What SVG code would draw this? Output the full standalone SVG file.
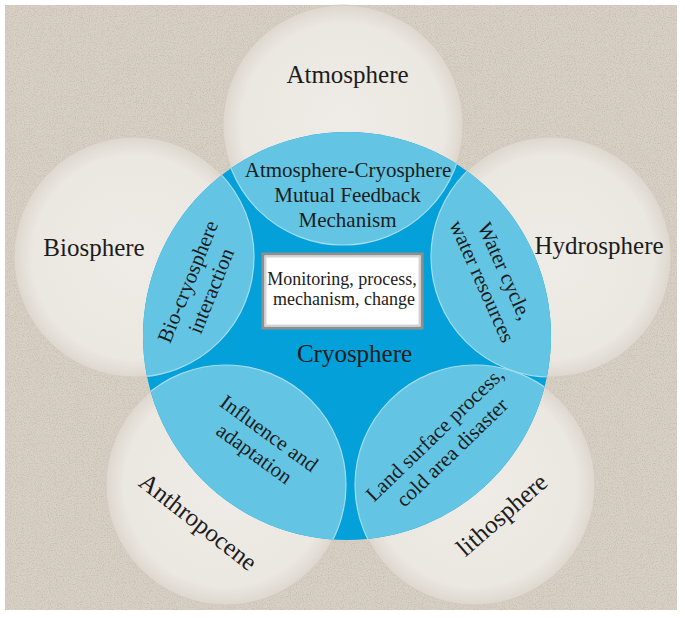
<svg xmlns="http://www.w3.org/2000/svg" xmlns:xlink="http://www.w3.org/1999/xlink" width="685" height="618" viewBox="0 0 685 618">
<style>
text{font-family:"Liberation Serif","Times New Roman",serif;fill:#1c1c1c;text-anchor:middle}
.outer{font-size:25px}
.inner{font-size:21px}
.box{font-size:18px}
.petal{fill:url(#petalGrad);stroke:#d2ccc2;stroke-width:1}
.lens{fill:#63c5e3;stroke:#a3ddef;stroke-width:1.2}
</style>
<defs>
<radialGradient id="petalGrad" cx="0.5" cy="0.5" r="0.5">
<stop offset="0" stop-color="#efece7"/>
<stop offset="0.85" stop-color="#ebe7e1"/>
<stop offset="1" stop-color="#ddd7ce"/>
</radialGradient>
<filter id="grain" x="0" y="0" width="100%" height="100%">
<feTurbulence type="fractalNoise" baseFrequency="0.85" numOctaves="2" seed="3" result="n"/>
<feColorMatrix in="n" type="matrix" values="0 0 0 0 0.45  0 0 0 0 0.42  0 0 0 0 0.38  0 0 0 -2.2 1.25"/>
<feComposite in2="SourceGraphic" operator="in"/>
</filter>
<clipPath id="blueClip"><circle cx="347" cy="336" r="204"/></clipPath>
<circle id="cAtm" cx="343" cy="125" r="120"/>
<circle id="cHyd" cx="551" cy="257" r="120"/>
<circle id="cBio" cx="134" cy="257" r="120"/>
<circle id="cAnt" cx="226" cy="485" r="120"/>
<circle id="cLit" cx="475" cy="485" r="120"/>
</defs>
<rect x="0" y="0" width="685" height="618" fill="#ffffff"/>
<rect x="5" y="5" width="672" height="605" fill="#d8d0c4"/>
<rect x="5" y="5" width="672" height="605" fill="#d8d0c4" filter="url(#grain)" opacity="0.6"/>

<g id="atmosphere">
<use xlink:href="#cAtm" class="petal"/>
<text class="outer" x="347.5" y="83">Atmosphere</text>
</g>
<g id="hydrosphere">
<use xlink:href="#cHyd" class="petal"/>
<text class="outer" x="599" y="254">Hydrosphere</text>
</g>
<g id="biosphere">
<use xlink:href="#cBio" class="petal"/>
<text class="outer" x="94" y="256">Biosphere</text>
</g>
<g id="anthropocene">
<use xlink:href="#cAnt" class="petal"/>
<text class="outer" transform="translate(198,522) rotate(38)" x="0" y="8">Anthropocene</text>
</g>
<g id="lithosphere">
<use xlink:href="#cLit" class="petal"/>
<text class="outer" transform="translate(502,515) rotate(-41)" x="0" y="8">lithosphere</text>
</g>

<g id="cryosphere">
<circle cx="347" cy="336" r="204" fill="#04a0d9"/>
<g clip-path="url(#blueClip)">
<use xlink:href="#cAtm" class="lens"/>
<use xlink:href="#cHyd" class="lens"/>
<use xlink:href="#cBio" class="lens"/>
<use xlink:href="#cAnt" class="lens"/>
<use xlink:href="#cLit" class="lens"/>
</g>
<text class="outer" x="354.5" y="362">Cryosphere</text>
</g>

<g id="atm-cryo">
<text class="inner" x="348" y="177">Atmosphere-Cryosphere</text>
<text class="inner" x="347.5" y="202">Mutual Feedback</text>
<text class="inner" x="347.5" y="227">Mechanism</text>
</g>
<g id="bio-cryo" transform="translate(199,286) rotate(-68)">
<text class="inner" x="0" y="-5">Bio-cryosphere</text>
<text class="inner" x="0" y="20">interaction</text>
</g>
<g id="hyd-cryo" transform="translate(494,276) rotate(66)">
<text class="inner" x="0" y="-5">Water cycle,</text>
<text class="inner" x="0" y="20">water resources</text>
</g>
<g id="ant-cryo" transform="translate(262,443) rotate(36)">
<text class="inner" x="0" y="-5">Influence and</text>
<text class="inner" x="0" y="20">adaptation</text>
</g>
<g id="lit-cryo" transform="translate(443,443) rotate(-44)">
<text class="inner" x="0" y="-5">Land surface process,</text>
<text class="inner" x="0" y="20">cold area disaster</text>
</g>

<g id="center-box">
<rect x="263" y="254" width="159" height="74" fill="#ffffff" stroke="#8f8f8f" stroke-width="3"/>
<rect x="265.5" y="256.5" width="154" height="69" fill="none" stroke="#d4d4d4" stroke-width="2"/>
<text class="box" x="342" y="285">Monitoring, process,</text>
<text class="box" x="344" y="305">mechanism, change</text>
</g>
</svg>
